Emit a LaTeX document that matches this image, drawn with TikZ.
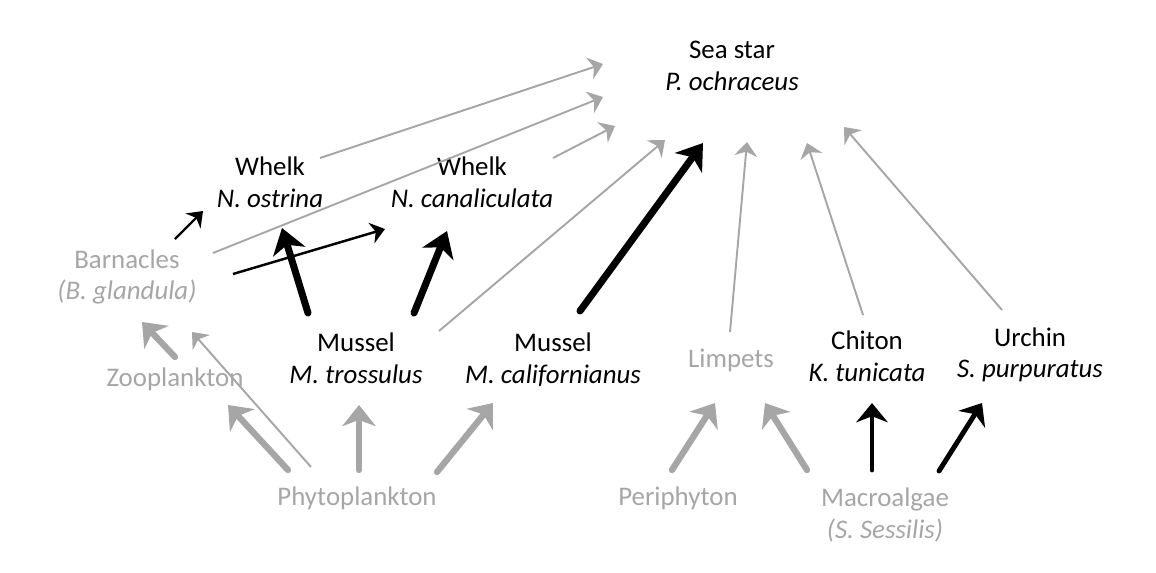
\documentclass[tikz,border=0pt]{standalone}
\usepackage{fontspec}
\setmainfont{Carlito}
\usepackage{xcolor}
\usepackage{tikz}
\usetikzlibrary{arrows.meta, positioning, calc}
\definecolor{webgray}{HTML}{A6A6A6}

\begin{document}
\begin{tikzpicture}[x=0.02cm, y=-0.02cm,
    species/.style={align=center, inner sep=0pt, font=\fontsize{15.3}{18}\selectfont},
    basal/.style={species, text=webgray},
    thingray/.style={draw=webgray, line width=1.1pt, -{Stealth[length=8pt, width=13pt, inset=2.5pt]}},
    thickgray/.style={draw=webgray, line width=3.6pt, line cap=round, -{Stealth[length=12pt, width=19pt, inset=3.5pt]}},
    thinblack/.style={draw=black, line width=1.4pt, -{Stealth[length=8pt, width=12pt, inset=2.5pt]}},
    midblack/.style={draw=black, line width=2.8pt, line cap=round, -{Stealth[length=11pt, width=18pt, inset=3.5pt]}},
    thickblack/.style={draw=black, line width=4pt, line cap=round, -{Stealth[length=14pt, width=19pt, inset=4pt]}}]
    \useasboundingbox (0,0) rectangle (1156,572);

    \node[species] (seastar) at (732, 66) {Sea star\\\textit{P. ochraceus}};
    \node[species] (ostrina) at (270, 182) {Whelk\\\textit{N. ostrina}};
    \node[species] (canal) at (472, 182) {Whelk\\\textit{N. canaliculata}};
    \node[basal] (barnacles) at (127, 277) {Barnacles\\\textit{(B. glandula)}};
    \node[basal] (zooplankton) at (175, 379) {Zooplankton};
    \node[species] (trossulus) at (356, 358) {Mussel\\\textit{M. trossulus}};
    \node[species] (californianus) at (553, 360) {Mussel\\\textit{M. californianus}};
    \node[basal] (limpets) at (731, 360) {Limpets};
    \node[species] (chiton) at (867, 356) {Chiton\\\textit{K. tunicata}};
    \node[species] (urchin) at (1030, 355) {Urchin\\\textit{S. purpuratus}};
    \node[basal] (phytoplankton) at (357, 498) {Phytoplankton};
    \node[basal] (periphyton) at (678, 498) {Periphyton};
    \node[basal] (macroalgae) at (885, 515) {Macroalgae\\\textit{(S. Sessilis)}};

    % into the sea star
    \draw[thingray] ($(ostrina)+(50,-24)$) -- ($(seastar)+(-129,-2)$);
    \draw[thingray] ($(barnacles)+(86,-24)$) -- ($(seastar)+(-129,31)$);
    \draw[thingray] ($(canal)+(81,-24)$) -- ($(seastar)+(-117,60)$);
    \draw[thingray] ($(trossulus)+(83,-27)$) -- ($(seastar)+(-67,74)$);
    \draw[thickblack] ($(californianus)+(27,-49)$) -- ($(seastar)+(-29,77)$);
    \draw[thingray] ($(limpets)+(-1,-28)$) -- ($(seastar)+(15,76)$);
    \draw[thingray] ($(chiton)+(-4,-41)$) -- ($(seastar)+(75,77)$);
    \draw[thingray] ($(urchin)+(-28,-45)$) -- ($(seastar)+(112,61)$);

    % into the whelks
    \draw[thinblack] ($(barnacles)+(48,-38)$) -- ($(ostrina)+(-67,29)$);
    \draw[thinblack] ($(barnacles)+(106,-3)$) -- ($(canal)+(-87,47)$);
    \draw[thickblack] ($(trossulus)+(-48,-45)$) -- ($(ostrina)+(12,46)$);
    \draw[thickblack] ($(trossulus)+(58,-45)$) -- ($(canal)+(-25,49)$);

    % plankton
    \draw[thickgray] ($(zooplankton)+(0,-22)$) -- ($(barnacles)+(15,45)$);
    \draw[thingray] ($(phytoplankton)+(-46,-31)$) -- ($(barnacles)+(65,55)$);
    \draw[thickgray] ($(phytoplankton)+(-69,-28)$) -- ($(zooplankton)+(53,26)$);
    \draw[thickgray] ($(phytoplankton)+(2,-28)$) -- ($(trossulus)+(3,47)$);
    \draw[thickgray] ($(phytoplankton)+(80,-26)$) -- ($(californianus)+(-60,43)$);

    % grazers
    \draw[thickgray] ($(periphyton)+(-6,-28)$) -- ($(limpets)+(-16,43)$);
    \draw[thickgray] ($(macroalgae)+(-78,-45)$) -- ($(limpets)+(34,43)$);
    \draw[midblack] ($(macroalgae)+(-13,-45)$) -- ($(chiton)+(5,47)$);
    \draw[midblack] ($(macroalgae)+(54,-44)$) -- ($(urchin)+(-48,48)$);
\end{tikzpicture}
\end{document}
